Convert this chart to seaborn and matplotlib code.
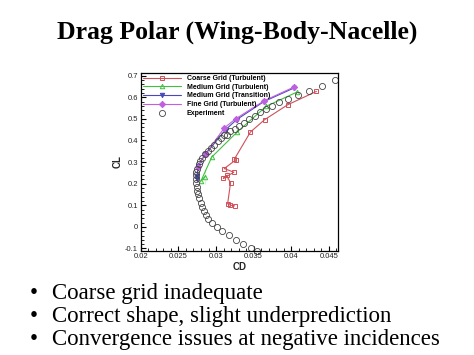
import matplotlib
matplotlib.use("Agg")
import matplotlib.pyplot as plt
import numpy as np
import pandas as pd
import seaborn as sns
from matplotlib.ticker import MultipleLocator

# experiment (open circles)
exp_cd = [0.04579, 0.04404, 0.04237, 0.04083, 0.03951, 0.03842, 0.03746, 0.03667,
          0.03588, 0.03513, 0.03438, 0.03368, 0.03303, 0.03250, 0.03184, 0.03141,
          0.03109, 0.03066, 0.03022, 0.02978, 0.02934, 0.02891, 0.02855, 0.02820,
          0.02790, 0.02767, 0.02750, 0.02737, 0.02733, 0.02733, 0.02737, 0.02741,
          0.02746, 0.02754, 0.02780, 0.02799, 0.02820, 0.02846, 0.02868, 0.02899,
          0.02943, 0.03009, 0.03083, 0.03171, 0.03263, 0.03359, 0.03461, 0.03540]
exp_cl = [0.681, 0.654, 0.630, 0.612, 0.593, 0.577, 0.561, 0.545,
          0.531, 0.515, 0.499, 0.481, 0.468, 0.455, 0.442, 0.427,
          0.424, 0.410, 0.396, 0.381, 0.365, 0.350, 0.335, 0.319,
          0.304, 0.289, 0.270, 0.255, 0.238, 0.220, 0.201, 0.184,
          0.166, 0.150, 0.132, 0.112, 0.092, 0.074, 0.055, 0.037,
          0.018, 0.000, -0.020, -0.038, -0.060, -0.080, -0.098, -0.113]

coarse_cd = [0.03246, 0.03184, 0.03154, 0.03193, 0.03141, 0.03096, 0.03237, 0.03141,
             0.03109, 0.03263, 0.03241, 0.03457, 0.03645, 0.03951, 0.04333]
coarse_cl = [0.097, 0.101, 0.107, 0.204, 0.215, 0.224, 0.253, 0.261,
             0.270, 0.310, 0.312, 0.439, 0.496, 0.565, 0.627]

medium_cd = [0.02855, 0.02799, 0.02855, 0.02943, 0.03280, 0.03667, 0.04075]
medium_cl = [0.200, 0.212, 0.266, 0.323, 0.439, 0.558, 0.624]

trans_cd = [0.02746, 0.02750, 0.02759, 0.02855, 0.03128, 0.03272, 0.03636, 0.04030]
trans_cl = [0.222, 0.235, 0.281, 0.335, 0.450, 0.496, 0.580, 0.642]

fine_cd = [0.02755, 0.02860, 0.03110, 0.03260, 0.03640, 0.04040]
fine_cl = [0.278, 0.338, 0.458, 0.500, 0.584, 0.648]

sns.set_style("white")
plt.rcParams['font.family'] = ['Liberation Sans', 'DejaVu Sans']
plt.rcParams['text.color'] = 'black'

fig = plt.figure(figsize=(4.74, 3.55), dpi=100)
ax = fig.add_axes([0.297, 0.294, 0.416, 0.499])

series = [
    ("Coarse Grid (Turbulent)", coarse_cd, coarse_cl, "#d0505a", "s", "none"),
    ("Medium Grid (Turbulent)", medium_cd, medium_cl, "#40c040", "^", "none"),
    ("Medium Grid (Transition)", trans_cd, trans_cl, "#4848b8", "v", "#4848b8"),
    ("Fine Grid (Turbulent)", fine_cd, fine_cl, "#c060e0", "D", "#c060e0"),
]
for name, xs, ys, col, mk, fc in series:
    sns.lineplot(x=xs, y=ys, sort=False, ax=ax, color=col, lw=0.8, marker=mk,
                 markersize=3.2, markerfacecolor=fc, markeredgecolor=col,
                 markeredgewidth=0.7, label=name)

ax.plot(exp_cd, exp_cl, ls="none", marker="o", markersize=4.4, markerfacecolor="none",
        markeredgecolor="#444444", markeredgewidth=0.6, label="Experiment", clip_on=False)

ax.set_xlim(0.02, 0.0462)
ax.set_ylim(-0.11, 0.71)
ax.xaxis.set_major_locator(MultipleLocator(0.005))
ax.xaxis.set_minor_locator(MultipleLocator(0.001))
ax.yaxis.set_major_locator(MultipleLocator(0.1))
ax.yaxis.set_minor_locator(MultipleLocator(0.02))
ax.set_xticks(np.arange(0.02, 0.0451, 0.005))
ax.set_xticklabels(["0.02", "0.025", "0.03", "0.035", "0.04", "0.045"])
ax.set_yticks(np.arange(-0.1, 0.71, 0.1))
ax.set_yticklabels(["-0.1", "0", "0.1", "0.2", "0.3", "0.4", "0.5", "0.6", "0.7"])
ax.tick_params(axis="both", which="major", direction="in", length=3.5, width=0.8,
               labelsize=5.5, color="black", labelcolor="#222222", pad=2,
               bottom=True, left=True)
ax.tick_params(axis="both", which="minor", direction="in", length=2, width=0.6,
               color="black", bottom=True, left=True)
for s in ax.spines.values():
    s.set_color("black")
    s.set_linewidth(0.9)

ax.set_xlabel("CD", fontsize=7, fontweight="bold", labelpad=1)
ax.set_ylabel("CL", fontsize=7, fontweight="bold", labelpad=2)

leg = ax.legend(loc="upper left", bbox_to_anchor=(-0.01, 1.015), frameon=False,
                fontsize=5, handlelength=5.5, handletextpad=0.8, labelspacing=0.25,
                borderaxespad=0.2)
for t in leg.get_texts():
    t.set_fontweight("bold")

fig.text(0.5, 0.91, "Drag Polar (Wing-Body-Nacelle)", ha="center", va="center",
         fontsize=18.5, fontweight="bold", family="Liberation Serif", color="black")

bullets = ["Coarse grid inadequate",
           "Correct shape, slight underprediction",
           "Convergence issues at negative incidences"]
for i, b in enumerate(bullets):
    y = 1 - (293 + i * 23.5) / 355
    fig.text(30 / 474, y, "\u2022", ha="left", va="center", fontsize=16.5,
             family="Liberation Serif", color="black")
    fig.text(52 / 474, y, b, ha="left", va="center", fontsize=16.5,
             family="Liberation Serif", color="black")

fig.savefig("out.png", dpi=100)
